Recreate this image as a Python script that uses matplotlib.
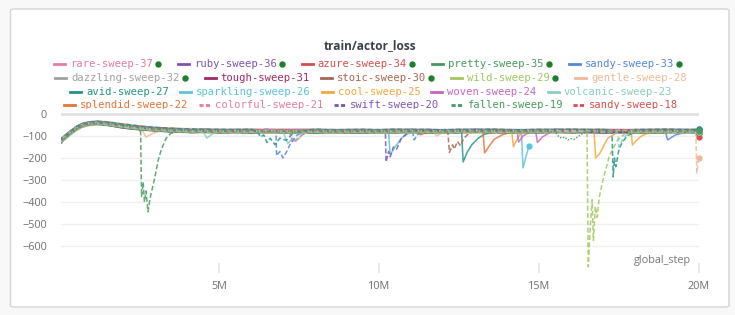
"""train/actor_loss panel re-drawn in the W&B run-chart style."""
import matplotlib

matplotlib.use("Agg")
import matplotlib.pyplot as plt
from matplotlib.patches import FancyBboxPatch
from matplotlib.ticker import FuncFormatter
from matplotlib.transforms import Bbox

W, H = 735, 315

# shared shape of the runs (x in millions of steps); two slightly different traces
BASE_X = [0.0, 0.08, 0.15, 0.25, 0.4, 0.55, 0.7, 0.85, 1.0, 1.2, 1.4, 1.6, 1.8, 2.0,
          2.3, 2.6, 3.0, 3.4, 3.8, 4.2, 4.6, 5.0, 5.5, 6.0, 6.5, 7.0, 7.5, 8.0, 8.5,
          9.0, 9.5, 10.0, 10.5, 11.0, 11.5, 12.0, 12.5, 13.0, 13.5, 14.0, 14.5, 15.0,
          15.5, 16.0, 16.5, 17.0, 17.5, 18.0, 18.5, 19.0, 19.5, 20.0]
BASE_Y_A = [-106, -118, -112, -100, -82, -66, -54, -47, -43, -41, -42, -45, -49, -53,
            -58, -63, -68, -71, -74, -75, -77, -77, -78, -76, -79, -77, -78, -76, -79,
            -78, -77, -79, -76, -78, -77, -79, -77, -78, -76, -78, -79, -77, -78, -76,
            -78, -77, -79, -78, -77, -76, -78, -77]
BASE_Y_B = [-112, -125, -108, -95, -78, -62, -51, -45, -41, -40, -43, -47, -52, -57,
            -62, -66, -70, -74, -76, -78, -76, -79, -77, -80, -76, -79, -77, -80, -77,
            -79, -80, -77, -79, -76, -80, -77, -79, -76, -79, -80, -77, -79, -76, -79,
            -77, -80, -77, -79, -80, -78, -77, -79]

# runs listed in the legend
RUN_NAMES = ["rare-sweep-37", "ruby-sweep-36", "azure-sweep-34", "pretty-sweep-35",
             "sandy-sweep-33", "dazzling-sweep-32", "tough-sweep-31", "stoic-sweep-30",
             "wild-sweep-29", "gentle-sweep-28", "avid-sweep-27", "sparkling-sweep-26",
             "cool-sweep-25", "woven-sweep-24", "volcanic-sweep-23", "splendid-sweep-22",
             "colorful-sweep-21", "swift-sweep-20", "fallen-sweep-19", "sandy-sweep-18"]
RUN_COLORS = ["#E87B9F", "#7D54B2", "#DA4C4C", "#479A5F", "#5387DD", "#A0A0A0",
              "#A12864", "#A46750", "#A0C75C", "#F0B899", "#229487", "#5BC5DB",
              "#F2A93B", "#C565C7", "#87CEBF", "#E57439", "#E87B9F", "#7D54B2",
              "#479A5F", "#DA4C4C"]
RUN_STYLES = ["-"] * 16 + ["--"] * 4
RUN_ACTIVE = [True, True, True, True, True, True, False, True, True, False,
              False, False, False, False, False, False, False, False, False, False]
RUN_BASE = ["A", "B", "A", "B", "B", "A", "B", "A", "B", "A",
            "B", "A", "A", "B", "A", "B", "A", "B", "A", "B"]
RUN_OFFSETS = [4, -6, 7, -2, 2, -8, 5, 0, -4, 8, -7, 3, -1, 6, -5, 1, -3, 6, 0, -6]
RUN_DIPS = [
    [],
    [],
    [],
    [],
    [[(18.95, -80), (19.02, -118), (19.25, -96), (19.6, -82)]],
    [],
    [],
    [],
    [],
    [[(2.6, -74), (2.72, -105), (2.9, -90), (3.1, -80)],
     [(11.7, -78), (11.8, -100), (11.95, -88), (12.1, -80)]],
    [[(12.58, -78), (12.63, -218), (12.75, -175), (12.9, -140), (13.1, -110),
      (13.3, -92), (13.6, -82)]],
    [[(10.3, -80), (10.35, -186), (10.5, -150), (10.7, -110), (10.9, -90), (11.1, -82)],
     [(14.45, -80), (14.5, -245), (14.6, -190), (14.69, -145)]],
    [[(14.15, -78), (14.2, -150), (14.3, -120), (14.4, -95), (14.55, -82)],
     [(16.72, -80), (16.77, -200), (16.9, -180), (17.0, -150), (17.15, -110), (17.4, -88)],
     [(17.88, -80), (17.92, -141), (18.05, -120), (18.2, -100), (18.45, -85)]],
    [[(14.32, -78), (14.36, -128), (14.5, -100), (14.65, -88)],
     [(14.9, -80), (14.95, -130), (15.1, -105), (15.3, -88)]],
    [[(4.5, -78), (4.62, -110), (4.8, -90), (5.0, -80)],
     [(7.0, -80), (7.15, -135), (7.3, -110), (7.4, -125), (7.6, -95), (7.8, -82)]],
    [[(11.2, -78), (11.3, -95), (11.45, -85)],
     [(13.25, -78), (13.3, -177), (13.45, -145), (13.6, -115), (13.85, -95), (14.1, -84)]],
    [[(7.2, -85), (7.32, -130), (7.5, -105), (7.7, -85)]],
    [[(10.2, -80), (10.22, -218), (10.3, -170), (10.35, -195), (10.45, -150),
      (10.55, -160), (10.7, -110), (10.9, -85)]],
    [[(2.55, -80), (2.58, -375), (2.63, -310), (2.67, -400), (2.72, -350), (2.78, -445),
      (2.85, -380), (3.0, -285), (3.1, -210), (3.2, -160), (3.35, -110), (3.5, -88),
      (3.7, -78)]],
    [[(19.8, -82), (20.0, -103)]],
]

# further runs of the sweep that the legend does not list
EXTRA_COLORS = ["#5387DD", "#A0A0A0", "#A12864", "#A46750", "#A0C75C", "#F0B899",
                "#229487", "#87CEBF", "#479A5F"]
EXTRA_STYLES = ["--", "--", "--", "--", "--", "--", "--", "--", ":"]
EXTRA_BASE = ["A", "B", "A", "B", "A", "B", "A", "B", "A"]
EXTRA_OFFSETS = [-2, 5, -5, 3, -7, 2, 7, -3, 0]
EXTRA_DIPS = [
    [[(6.78, -80), (6.8, -190), (6.9, -170), (7.0, -200), (7.1, -175), (7.25, -130),
      (7.45, -95), (7.7, -80)],
     [(11.05, -80), (11.1, -118), (11.2, -95), (11.35, -82)]],
    [],
    [],
    [[(12.15, -80), (12.2, -175), (12.3, -140), (12.35, -160), (12.45, -125),
      (12.55, -145), (12.65, -110), (12.8, -90)]],
    [[(16.5, -80), (16.54, -695), (16.6, -520), (16.66, -390), (16.7, -575),
      (16.76, -420), (16.82, -470), (16.88, -380), (17.0, -300), (17.2, -190),
      (17.45, -120), (17.7, -88), (17.9, -80)]],
    [[(19.9, -80), (19.93, -268), (20.0, -200)]],
    [[(6.2, -80), (6.3, -105), (6.4, -95), (6.5, -130), (6.6, -110), (6.75, -140),
      (6.9, -110), (7.1, -120), (7.3, -90), (7.5, -80)],
     [(17.28, -80), (17.32, -286), (17.36, -200), (17.4, -240), (17.5, -160),
      (17.6, -130), (17.75, -100), (17.95, -85)]],
    [[(17.45, -80), (17.5, -150), (17.6, -120), (17.7, -100), (17.9, -84)]],
    [[(15.5, -80), (15.6, -100), (15.7, -110), (15.8, -105), (15.9, -118), (16.0, -112),
      (16.1, -115), (16.2, -105), (16.35, -90), (16.5, -80)]],
]

X_TICKS = [5, 10, 15, 20]
Y_TICKS = [0, -100, -200, -300, -400, -500, -600]
LEGEND_ROWS = [[0, 1, 2, 3, 4], [5, 6, 7, 8, 9], [10, 11, 12, 13, 14], [15, 16, 17, 18, 19]]

LS = {"-": "-", "--": (0, (3.2, 1.6)), ":": (0, (1.0, 1.0))}
BASES = {"A": BASE_Y_A, "B": BASE_Y_B}


def series(base, offset, dips):
    pts = [(x, y) for dip in dips for x, y in dip]
    spans = [(d[0][0], d[-1][0]) for d in dips]
    # a run whose last dip stops early (still deep) ended there
    if dips and dips[-1][-1][0] < BASE_X[-1] - 0.05 and dips[-1][-1][1] < -120:
        end = dips[-1][-1][0]
    else:
        end = BASE_X[-1]
    for x, y in zip(BASE_X, BASES[base]):
        if x > end or any(a <= x <= b for a, b in spans):
            continue
        pts.append((x, y + offset))
    pts.sort()
    return [p[0] for p in pts], [p[1] for p in pts]


def px(x, y):
    return x / W, 1 - y / H


plt.rcParams["font.family"] = ["Open Sans", "DejaVu Sans"]
fig = plt.figure(figsize=(W / 100, H / 100), dpi=100, facecolor="#f8f8f8")
fig.patches.append(FancyBboxPatch(px(10.5, 307), (729 - 10.5) / W, (307 - 9) / H,
                                  boxstyle="round,pad=0,rounding_size=0.005",
                                  transform=fig.transFigure, fc="white",
                                  ec="#d4d4d4", lw=1, zorder=-5))

ax = fig.add_axes([61 / W, 1 - 273 / H, (699 - 61) / W, (273 - 112) / H])
ax.set_facecolor("none")
for sp in ax.spines.values():
    sp.set_visible(False)
ax.set_xlim(0.0625, 20)
ax.set_ylim(-723, 9)

for yv in Y_TICKS[1:]:
    ax.axhline(yv, color="#f0f0f0", lw=1, zorder=0)
ax.axhline(0, color="#e2e2e2", lw=2, zorder=0)

all_runs = ([(RUN_COLORS[i], RUN_STYLES[i], RUN_BASE[i], RUN_OFFSETS[i], RUN_DIPS[i])
             for i in range(len(RUN_NAMES))]
            + [(EXTRA_COLORS[i], EXTRA_STYLES[i], EXTRA_BASE[i], EXTRA_OFFSETS[i],
                EXTRA_DIPS[i]) for i in range(len(EXTRA_COLORS))])
for color, style, base, off, dips in all_runs:
    xs, ys = series(base, off, dips)
    ax.plot(xs, ys, color=color, ls=LS[style], lw=1.1, alpha=0.85, zorder=2)
    ax.plot(xs[-1], ys[-1], "o", ms=3.5, color=color, clip_on=False, zorder=3)

ax.set_xticks(X_TICKS)
ax.xaxis.set_major_formatter(FuncFormatter(lambda v, _: f"{v:g}M"))
ax.set_yticks(Y_TICKS)
ax.tick_params(axis="x", direction="in", length=7.5, width=1.2, color="#e6e6e6",
               labelcolor="#6f6f6f", labelsize=7.8, pad=6)
ax.tick_params(axis="y", length=0, labelcolor="#6f6f6f", labelsize=7.8, pad=10)
ax.text(0.988, 0.075, "global_step", transform=ax.transAxes, ha="right", va="center",
        fontsize=7.8, color="#777777")

fig.text(*px(370, 46), "train/actor_loss", ha="center", va="center",
         fontsize=8.6, fontweight="bold", color="#3b4049")

# legend: one centred line of entries per row
fig.canvas.draw()
renderer = fig.canvas.get_renderer()
row_y = [64, 78, 91.5, 105]
clip = Bbox([[0, H - 108.5], [W, H]])
GAP = 11
for r, row in enumerate(LEGEND_ROWS):
    y = row_y[r]
    items = []
    for i in row:
        t = fig.text(0, 0, RUN_NAMES[i], family="DejaVu Sans Mono", fontsize=7.6,
                     color=RUN_COLORS[i], va="center")
        tw = t.get_window_extent(renderer).width
        t.remove()
        items.append((i, tw))
    widths = [11 + 5 + tw + (14 if RUN_ACTIVE[i] else 0) for i, tw in items]
    total = sum(widths) + GAP * (len(items) - 1)
    x = 371 - total / 2
    for (i, tw), w in zip(items, widths):
        hx, hy = px(x, y)
        hx2, _ = px(x + 11, y)
        ls = "-" if RUN_STYLES[i] == "-" else (0, (1.5, 0.8))
        fig.add_artist(plt.Line2D([hx, hx2], [hy, hy], color=RUN_COLORS[i], lw=2.0,
                                  ls=ls, transform=fig.transFigure))
        t = fig.text(*px(x + 16, y), RUN_NAMES[i], family="DejaVu Sans Mono",
                     fontsize=7.6, color=RUN_COLORS[i], va="center")
        if r == 3:
            t.set_clip_box(clip)
            t.set_clip_on(True)
        if RUN_ACTIVE[i]:
            fig.add_artist(plt.Line2D([px(x + 16 + tw + 5, y)[0]], [hy], marker="o",
                                      ms=3.6, color="#1d7f2c", ls="",
                                      transform=fig.transFigure))
        x += w + GAP

fig.savefig("out.png", dpi=100, facecolor=fig.get_facecolor())
